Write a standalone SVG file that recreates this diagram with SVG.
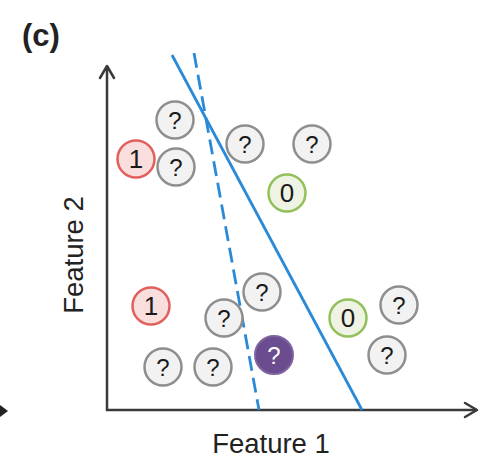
<svg xmlns="http://www.w3.org/2000/svg" width="502" height="476" viewBox="0 0 502 476">
<style>
.ax{stroke:#3a3a3a;stroke-width:2.5;fill:none}
.hd{stroke:#3a3a3a;stroke-width:2.5;fill:none;stroke-linecap:round;stroke-linejoin:round}
.q circle{fill:#f2f2f2;stroke:#8e8e8e;stroke-width:2.5}
.r circle{fill:#f9dede;stroke:#e0605e;stroke-width:2.5}
.g circle{fill:#eff3e4;stroke:#92c05a;stroke-width:2.5}
.p circle{fill:#6b4c8f;stroke:#7f63a1;stroke-width:2}
text{font-family:"Liberation Sans",Arial,sans-serif}
.q text,.p text{font-size:24px;text-anchor:middle}
.r text,.g text{font-size:26px;text-anchor:middle}
.q text,.r text,.g text{fill:#1a1a1a}
.p text{fill:#ffffff}
.bl{stroke:#2b8ad8;stroke-width:2.8;fill:none}
</style>
<text x="22" y="46" font-size="31" font-weight="bold" fill="#222">(c)</text>
<g id="axes">
<line class="ax" x1="107" y1="411" x2="107" y2="66"/>
<polyline class="hd" points="100,78 107,66 114,78"/>
<line class="ax" x1="106" y1="410" x2="477" y2="410"/>
<polyline class="hd" points="465,403 477,410 465,417"/>
<polygon points="0,405 8,411 0,417" fill="#222"/>
</g>
<text x="271" y="453" font-size="27.5" text-anchor="middle" fill="#222">Feature 1</text>
<text transform="translate(83,255) rotate(-90)" font-size="27.5" text-anchor="middle" fill="#222">Feature 2</text>
<g id="connectors">
<line class="bl" x1="172" y1="55" x2="362" y2="410"/>
<line class="bl" x1="194" y1="53" x2="259" y2="410" stroke-dasharray="15 7"/>
</g>
<g id="n1" class="q"><circle cx="175" cy="120" r="18.5"/><text x="175" y="129">?</text></g>
<g id="n2" class="r"><circle cx="136" cy="159" r="18.5"/><text x="136" y="168">1</text></g>
<g id="n3" class="q"><circle cx="176" cy="167" r="18.5"/><text x="176" y="176">?</text></g>
<g id="n4" class="q"><circle cx="245" cy="144" r="18.5"/><text x="245" y="153">?</text></g>
<g id="n5" class="q"><circle cx="312" cy="144" r="18.5"/><text x="312" y="153">?</text></g>
<g id="n6" class="g"><circle cx="287" cy="193" r="18.5"/><text x="287" y="202">0</text></g>
<g id="n7" class="r"><circle cx="151" cy="306" r="18.5"/><text x="151" y="315">1</text></g>
<g id="n8" class="q"><circle cx="224" cy="318" r="18.5"/><text x="224" y="327">?</text></g>
<g id="n9" class="q"><circle cx="262" cy="292" r="18.5"/><text x="262" y="301">?</text></g>
<g id="n10" class="q"><circle cx="163" cy="367" r="18.5"/><text x="163" y="376">?</text></g>
<g id="n11" class="q"><circle cx="213" cy="367" r="18.5"/><text x="213" y="376">?</text></g>
<g id="n12" class="p"><circle cx="274" cy="355" r="19"/><text x="274" y="364">?</text></g>
<g id="n13" class="g"><circle cx="348" cy="318" r="18.5"/><text x="348" y="327">0</text></g>
<g id="n14" class="q"><circle cx="399" cy="305" r="18.5"/><text x="399" y="314">?</text></g>
<g id="n15" class="q"><circle cx="387" cy="355" r="18.5"/><text x="387" y="364">?</text></g>
</svg>
